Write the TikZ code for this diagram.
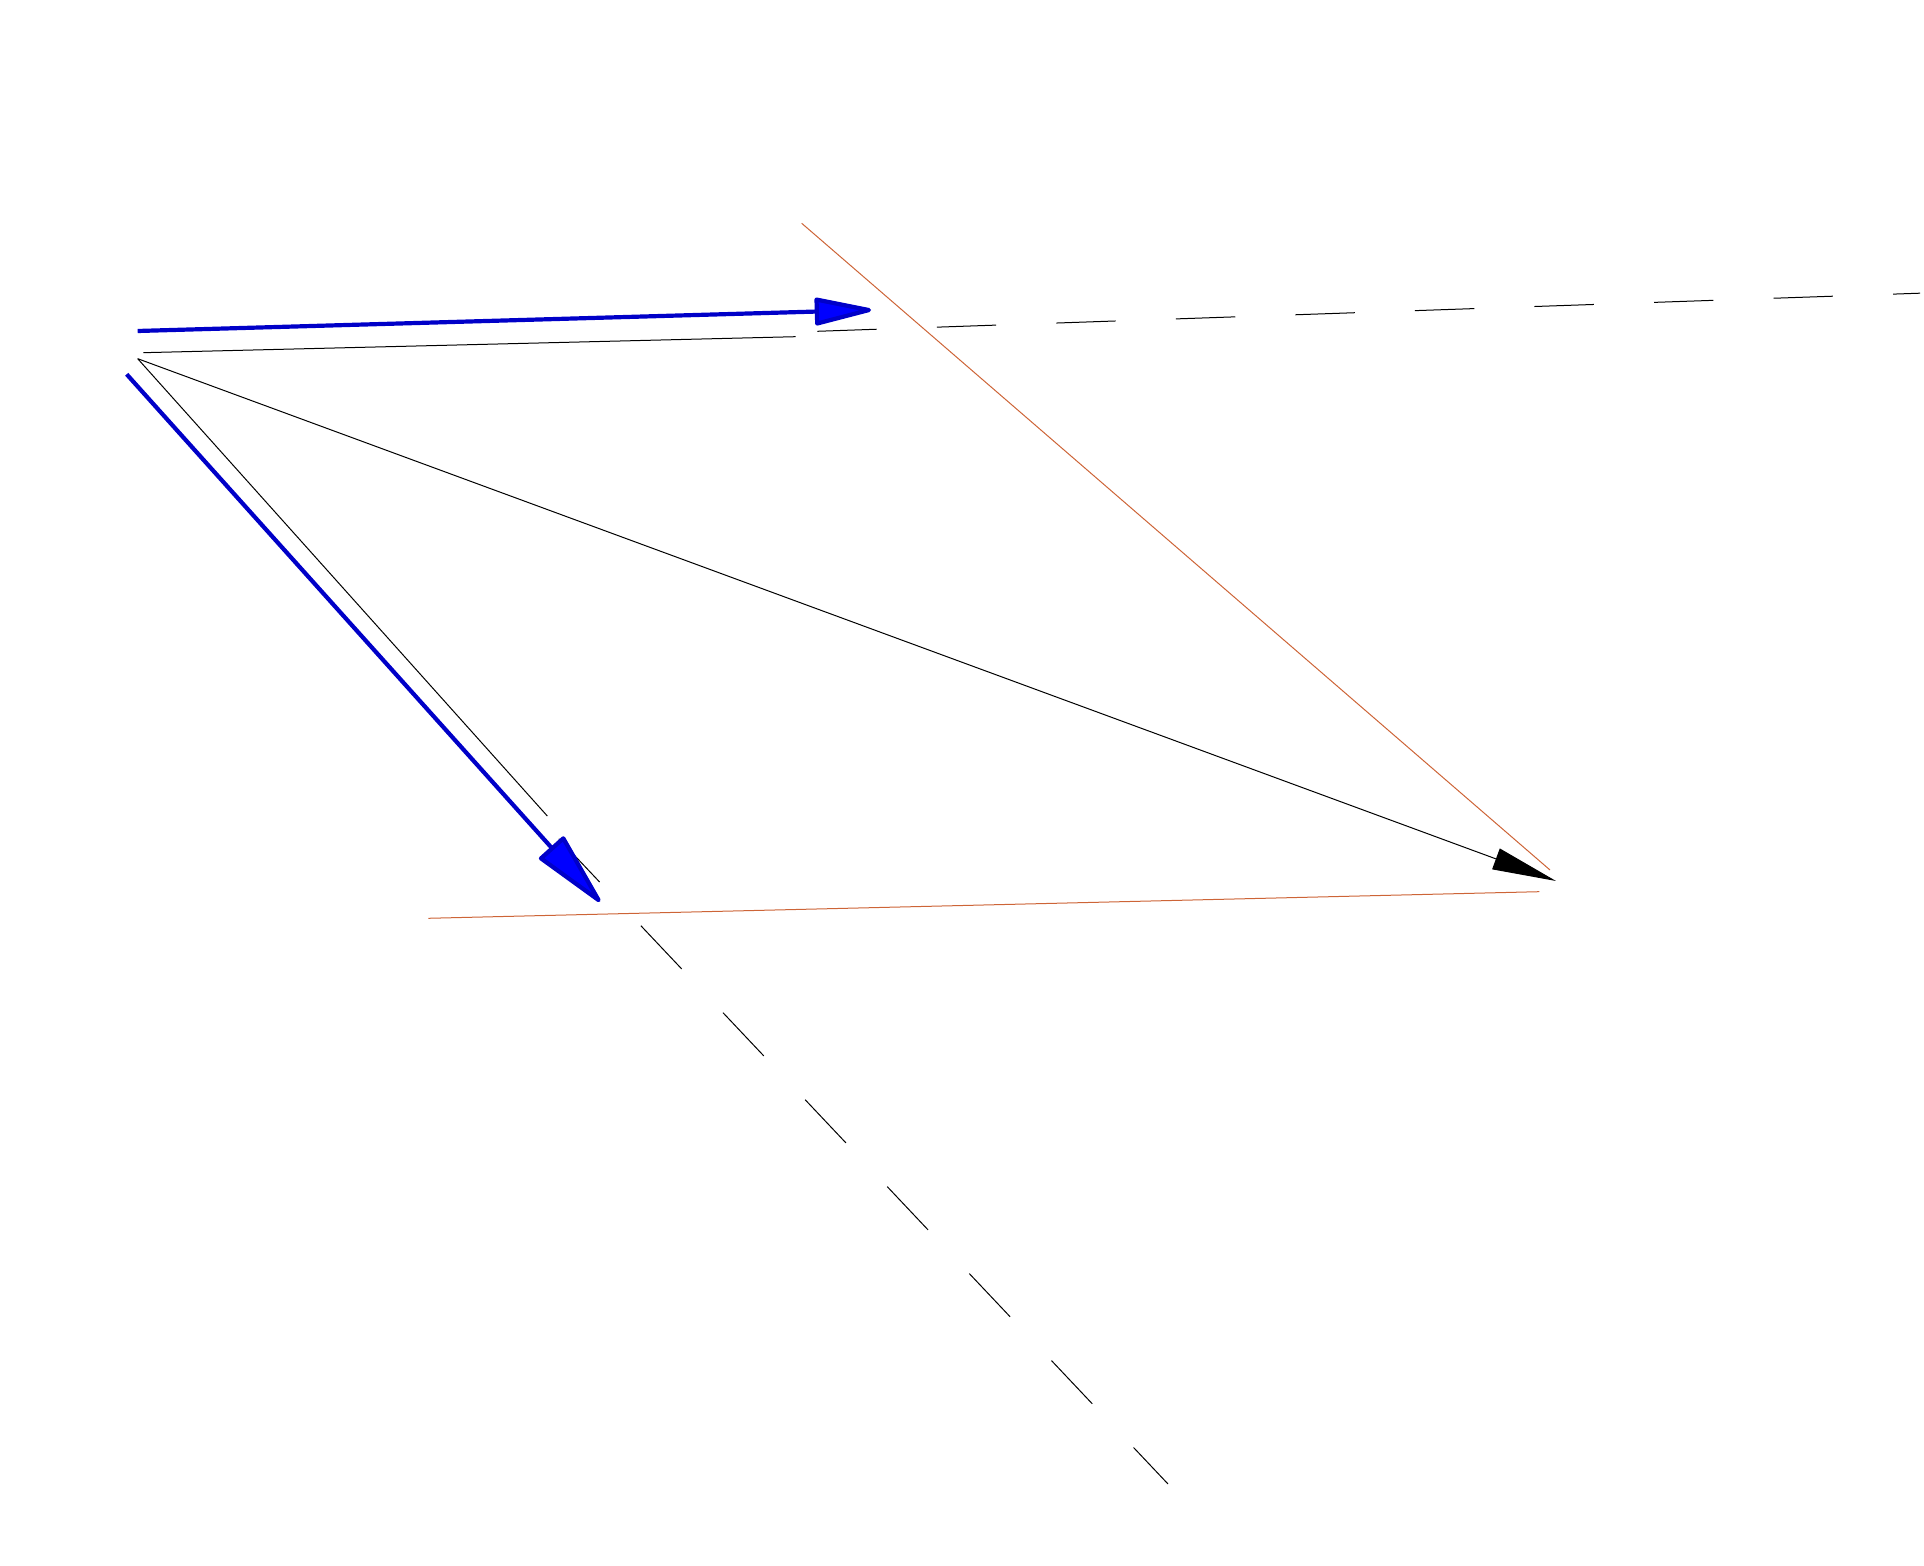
\documentclass[tikz,border=0pt]{standalone}
\usetikzlibrary{arrows.meta}
\definecolor{vecblue}{RGB}{0,0,200}
\definecolor{edgeorange}{RGB}{205,100,55}
\begin{document}
\begin{tikzpicture}[x=0.5pt,y=-0.5pt]
        \useasboundingbox (0,0) rectangle (1924,1566);
        % points of the figure
        \coordinate (o) at (137.7,358.7);
        \coordinate (sum) at (1556,881);
        \coordinate (ua) at (143.3,352.7);
        \coordinate (ub) at (795.7,336.7);
        \coordinate (va) at (o);
        \coordinate (vb) at (547.3,816);
        \coordinate (ra) at (817.3,331.3);
        \coordinate (rb) at (1920,293.2);
        \coordinate (qa) at (558.8,838.8);
        \coordinate (qb) at (1168,1484);
        \coordinate (pa) at (801.7,223.3);
        \coordinate (pb) at (1550,870);
        \coordinate (ka) at (428.3,918.3);
        \coordinate (kb) at (1539.3,891.7);
        \coordinate (ta) at (137.7,331);
        \coordinate (tb) at (871,310);
        \coordinate (la) at (126.7,374.3);
        \coordinate (lb) at (600,901.7);
        % parallel lines
        \draw[edgeorange, line width=0.5pt] (pa) -- (pb);
        \draw[edgeorange, line width=0.5pt] (ka) -- (kb);
        % components and their lines
        \draw[line width=0.5pt] (ua) -- (ub);
        \draw[line width=0.5pt] (va) -- (vb);
        \draw[line width=0.5pt, dash pattern=on 29.7pt off 30.1pt] (ra) -- (rb);
        \draw[line width=0.5pt, dash pattern=on 29.7pt off 30.1pt] (qa) -- (qb);
        % vectors
        \draw[vecblue, line width=2.1pt, -{Triangle[length=32pt,width=14pt,round,fill=blue]}] (ta) -- (tb);
        \draw[vecblue, line width=2.1pt, -{Triangle[length=41pt,width=17pt,round,fill=blue]}] (la) -- (lb);
        \draw[line width=0.5pt, -{Triangle[length=32pt,width=11pt]}] (o) -- (sum);
    \end{tikzpicture}
\end{document}
